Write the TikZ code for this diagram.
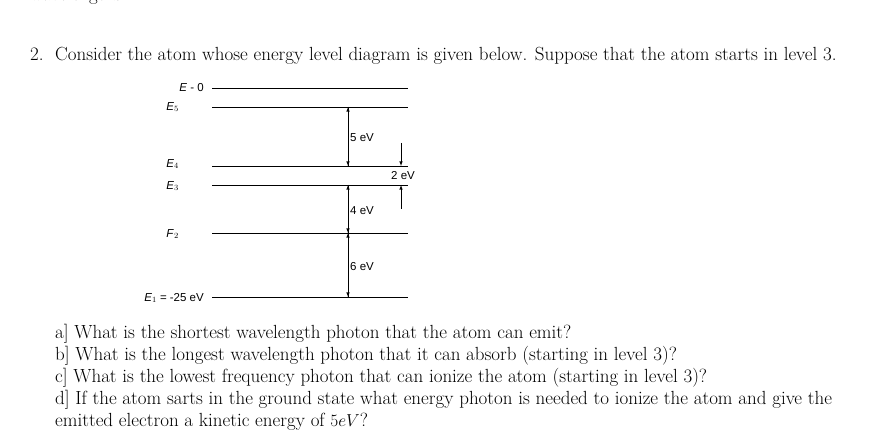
\documentclass[tikz,border=0pt]{standalone}
\usepackage{fontspec}
\usetikzlibrary{calc}
\newfontfamily\dia{Liberation Sans}
\begin{document}
\begin{tikzpicture}[x=1pt,y=-1pt,
  txt/.style={anchor=base west,inner sep=0pt,font=\fontsize{19}{22}\selectfont},
  lev/.style={line width=0.9pt},
  lab/.style={font=\dia\fontsize{11.5}{13}\selectfont,inner sep=1pt},
  arr/.style={-latex,line width=0.6pt}]
\useasboundingbox[fill=white] (0,0) rectangle (869,443);
\node[txt] (top) at (30,1) {wavelengths.};
\node[txt] (q) at (30,61) {2.\ \ Consider the atom whose energy level diagram is given below. Suppose that the atom starts in level 3.};
% levels
\foreach \n/\y in {0/88,5/107,4/166,3/185,2/233,1/297}{
  \coordinate (L\n) at (212,\y); \coordinate (R\n) at (408,\y);
  \draw[lev] (L\n) -- (R\n);}
\node[lab,anchor=east] (t0) at (205,88) {\textit{E} - 0};
\node[lab,anchor=east] (t5) at (180,107) {\textit{E}$_5$};
\node[lab,anchor=east] (t4) at (180,164) {\textit{E}$_4$};
\node[lab,anchor=east] (t3) at (180,186) {\textit{E}$_3$};
\node[lab,anchor=east] (t2) at (180,234) {\textit{F}$_2$};
\node[lab,anchor=east] (t1) at (205,298) {\textit{E}$_1$ = -25 eV};
% arrows
\coordinate (a5) at (348,107); \coordinate (a4) at (348,166);
\coordinate (a3) at (348,185); \coordinate (a2) at (348,233); \coordinate (a1) at (348,297);
\draw[line width=0.6pt] (a5)--(a4) (a3)--(a1);
\foreach \a/\b in {a5/a4,a3/a2,a2/a1}{
  \draw[arr] ($(\a)!0.5!(\b)$) -- (\b);
  \draw[arr] ($(\a)!0.5!(\b)$) -- (\a);}
\node[lab,anchor=west] (e5) at (349,138) {5 eV};
\node[lab,anchor=west] (e4) at (349,211) {4 eV};
\node[lab,anchor=west] (e6) at (349,267) {6 eV};
\coordinate (b4) at (401,166); \coordinate (b3) at (401,185);
\draw[arr] (401,143) -- (b4);
\draw[arr] (401,209) -- (b3);
\node[lab] (e2) at (403,176) {2 eV};
% questions
\node[txt] (qa) at (55,338) {a] What is the shortest wavelength photon that the atom can emit?};
\node[txt] (qb) at (55,360) {b] What is the longest wavelength photon that it can absorb (starting in level 3)?};
\node[txt] (qc) at (55,382) {c] What is the lowest frequency photon that can ionize the atom (starting in level 3)?};
\node[txt] (qd) at (55,404) {d] If the atom sarts in the ground state what energy photon is needed to ionize the atom and give the};
\node[txt] (qe) at (55,426) {emitted electron a kinetic energy of $5eV$?};
\end{tikzpicture}
\end{document}
